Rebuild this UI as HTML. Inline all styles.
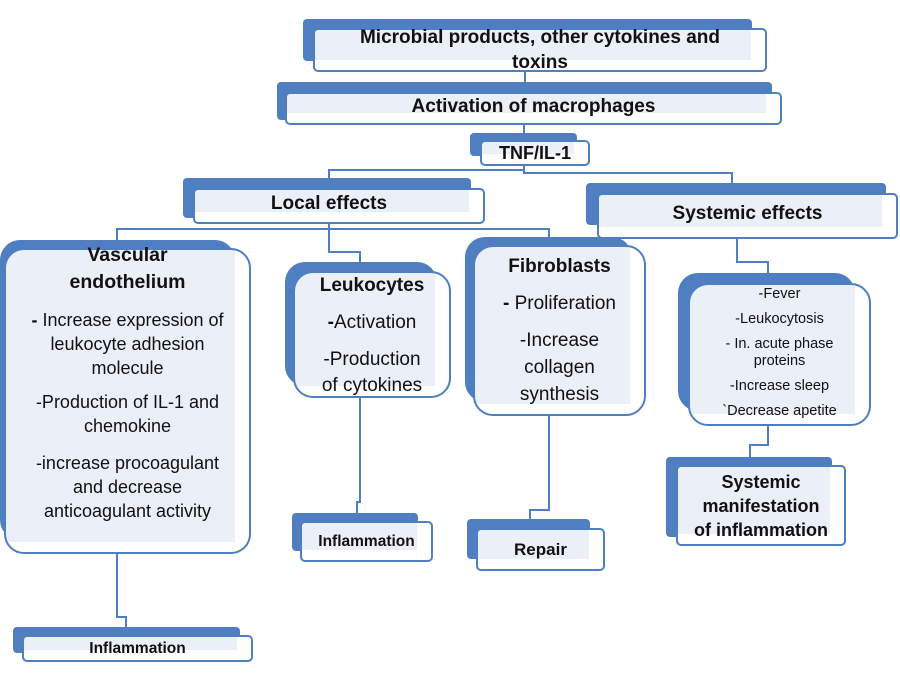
<!DOCTYPE html>
<html><head><meta charset="utf-8"><style>
body{margin:0;width:900px;height:675px;background:#fff;position:relative;overflow:hidden;font-family:"Liberation Sans",sans-serif;color:#111}
.b{position:absolute;background:#4f7fc0;border-radius:4px}
.f{position:absolute;box-sizing:border-box;border:2px solid #4f7fc0;border-radius:5px;background:linear-gradient(#eaeff8,#eaeff8) no-repeat;background-size:calc(100% - 14px) calc(100% - 10px);background-position:0 0;background-color:#fff;display:flex;flex-direction:column;align-items:center;justify-content:center;text-align:center}
.r{border-radius:20px}
.t{font-weight:bold}
.l{position:absolute;background:#4f7fc0}
</style></head><body>
<!-- connectors -->
<div class="l" style="left:524px;top:70px;width:2px;height:14px"></div>
<div class="l" style="left:523px;top:123px;width:2px;height:18px"></div>
<div class="l" style="left:523px;top:164px;width:2px;height:10px"></div>
<div class="l" style="left:328px;top:169px;width:197px;height:2px"></div>
<div class="l" style="left:328px;top:169px;width:2px;height:12px"></div>
<div class="l" style="left:523px;top:172px;width:210px;height:2px"></div>
<div class="l" style="left:731px;top:172px;width:2px;height:13px"></div>
<div class="l" style="left:328px;top:222px;width:2px;height:8px"></div>
<div class="l" style="left:116px;top:228px;width:434px;height:2px"></div>
<div class="l" style="left:116px;top:228px;width:2px;height:14px"></div>
<div class="l" style="left:328px;top:228px;width:2px;height:25px"></div>
<div class="l" style="left:328px;top:251px;width:33px;height:2px"></div>
<div class="l" style="left:359px;top:251px;width:2px;height:13px"></div>
<div class="l" style="left:548px;top:228px;width:2px;height:12px"></div>
<div class="l" style="left:736px;top:237px;width:2px;height:26px"></div>
<div class="l" style="left:736px;top:261px;width:33px;height:2px"></div>
<div class="l" style="left:767px;top:261px;width:2px;height:14px"></div>
<div class="l" style="left:767px;top:423px;width:2px;height:23px"></div>
<div class="l" style="left:749px;top:444px;width:20px;height:2px"></div>
<div class="l" style="left:749px;top:444px;width:2px;height:15px"></div>
<div class="l" style="left:548px;top:414px;width:2px;height:97px"></div>
<div class="l" style="left:529px;top:509px;width:21px;height:2px"></div>
<div class="l" style="left:529px;top:509px;width:2px;height:12px"></div>
<div class="l" style="left:359px;top:396px;width:2px;height:107px"></div>
<div class="l" style="left:356px;top:501px;width:5px;height:2px"></div>
<div class="l" style="left:356px;top:501px;width:2px;height:14px"></div>
<div class="l" style="left:116px;top:551px;width:2px;height:67px"></div>
<div class="l" style="left:116px;top:616px;width:11px;height:2px"></div>
<div class="l" style="left:125px;top:616px;width:2px;height:13px"></div>

<!-- Microbial -->
<div class="b" style="left:303px;top:19px;width:449px;height:42px"></div>
<div class="f t" style="left:313px;top:28px;width:454px;height:44px;font-size:19px;line-height:25px">Microbial products, other cytokines and<br>toxins</div>
<!-- Activation -->
<div class="b" style="left:277px;top:82px;width:495px;height:38px"></div>
<div class="f t" style="left:285px;top:92px;width:497px;height:33px;font-size:19px;padding-bottom:4px">Activation of macrophages</div>
<!-- TNF -->
<div class="b" style="left:470px;top:133px;width:107px;height:23px"></div>
<div class="f t" style="left:480px;top:140px;width:110px;height:26px;font-size:18px">TNF/IL-1</div>
<!-- Local -->
<div class="b" style="left:183px;top:178px;width:288px;height:40px"></div>
<div class="f t" style="left:193px;top:188px;width:292px;height:36px;font-size:19px;padding-right:20px;padding-bottom:4px">Local effects</div>
<!-- Systemic effects -->
<div class="b" style="left:586px;top:183px;width:300px;height:42px"></div>
<div class="f t" style="left:597px;top:193px;width:301px;height:46px;font-size:19px;padding-bottom:4px">Systemic effects</div>
<!-- Vascular -->
<div class="b r" style="left:0px;top:240px;width:235px;height:300px"></div>
<div class="f r" style="left:4px;top:248px;width:247px;height:306px;font-size:18px;line-height:24px;justify-content:flex-start">
<div class="t" style="font-size:19.5px;line-height:27px;margin-top:-8px">Vascular<br>endothelium</div>
<div style="margin-top:12px"><b>-</b> Increase expression of<br>leukocyte adhesion<br>molecule</div>
<div style="margin-top:10px">-Production of IL-1 and<br>chemokine</div>
<div style="margin-top:13px">-increase procoagulant<br>and decrease<br>anticoagulant activity</div>
</div>
<!-- Leukocytes -->
<div class="b r" style="left:285px;top:262px;width:152px;height:124px"></div>
<div class="f r" style="left:293px;top:271px;width:158px;height:127px;justify-content:flex-start;font-size:19px;line-height:26px">
<div class="t" style="font-size:19px">Leukocytes</div>
<div style="margin-top:11px"><b>-</b>Activation</div>
<div style="margin-top:11px;line-height:26px">-Production<br>of cytokines</div>
</div>
<!-- Fibroblasts -->
<div class="b r" style="left:465px;top:237px;width:167px;height:165px"></div>
<div class="f r" style="left:473px;top:245px;width:173px;height:171px;justify-content:flex-start;font-size:19px;line-height:27px">
<div class="t" style="margin-top:6px">Fibroblasts</div>
<div style="margin-top:10px"><b>-</b> Proliferation</div>
<div style="margin-top:10px">-Increase<br>collagen<br>synthesis</div>
</div>
<!-- Systemic list -->
<div class="b r" style="left:678px;top:273px;width:177px;height:138px"></div>
<div class="f r" style="left:688px;top:283px;width:183px;height:143px;justify-content:flex-start;font-size:14.5px;line-height:17px">
<div style="margin-top:1px">-Fever</div>
<div style="margin-top:8px">-Leukocytosis</div>
<div style="margin-top:8px">- In. acute phase<br>proteins</div>
<div style="margin-top:8px">-Increase sleep</div>
<div style="margin-top:8px">`Decrease apetite</div>
</div>
<!-- Systemic manifestation -->
<div class="b" style="left:666px;top:457px;width:166px;height:80px"></div>
<div class="f t" style="left:676px;top:465px;width:170px;height:81px;font-size:18px;line-height:24px">Systemic<br>manifestation<br>of inflammation</div>
<!-- Inflammation mid -->
<div class="b" style="left:292px;top:513px;width:126px;height:38px"></div>
<div class="f t" style="left:300px;top:521px;width:133px;height:41px;font-size:15.5px">Inflammation</div>
<!-- Repair -->
<div class="b" style="left:467px;top:519px;width:123px;height:40px"></div>
<div class="f t" style="left:476px;top:528px;width:129px;height:43px;font-size:17px">Repair</div>
<!-- Inflammation bottom -->
<div class="b" style="left:13px;top:627px;width:227px;height:26px"></div>
<div class="f t" style="left:22px;top:635px;width:231px;height:27px;font-size:15.5px">Inflammation</div>
</body></html>
